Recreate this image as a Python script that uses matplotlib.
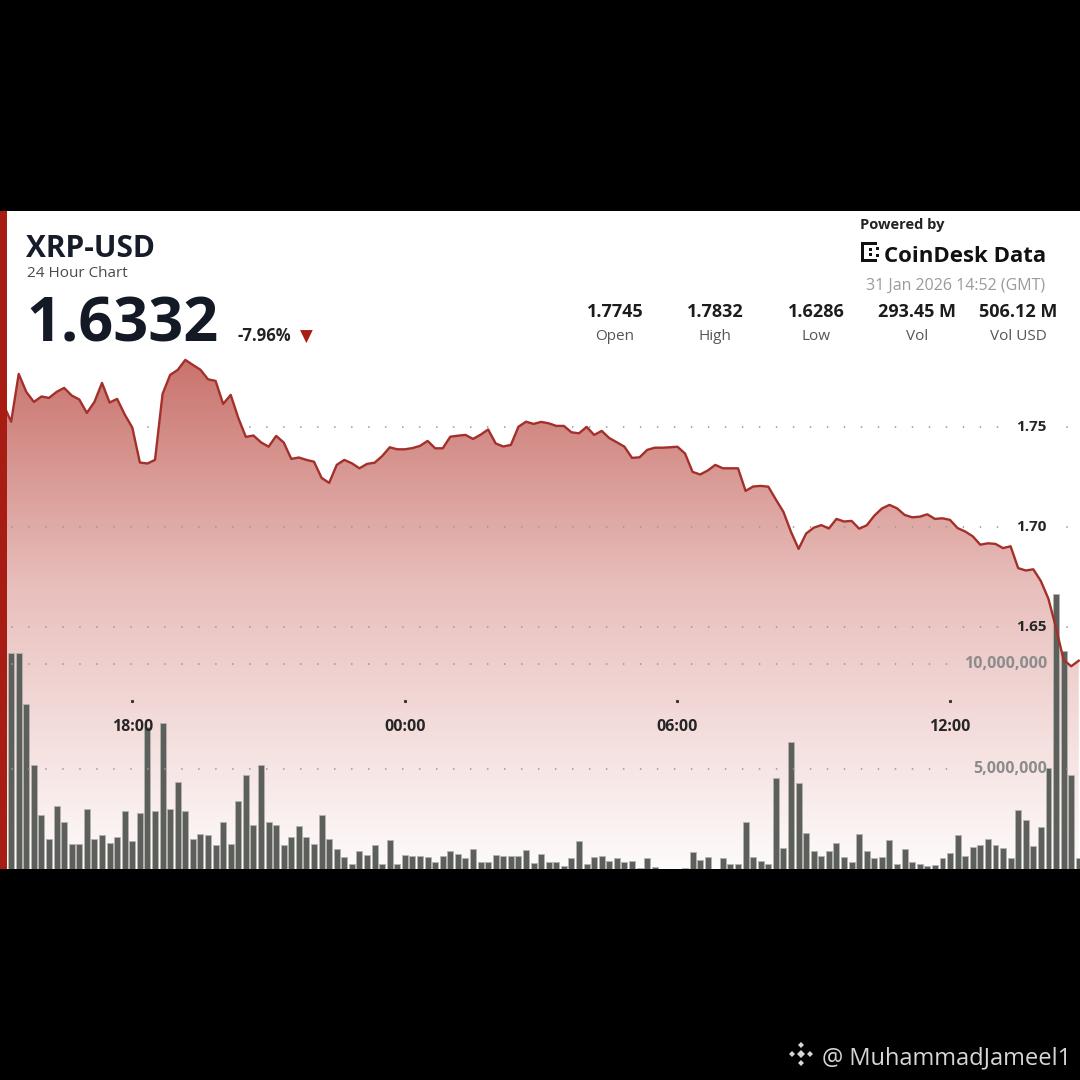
import numpy as np
import matplotlib.pyplot as plt
from matplotlib.colors import LinearSegmentedColormap
from matplotlib.patches import Rectangle, Polygon

# XRP-USD, 24 hour chart, 10 minute steps starting 15:00 the day before
start_hour = 15.0
step_hours = 1 / 6

prices = [
    1.7609, 1.7609, 1.7525, 1.7764, 1.7674, 1.7624, 1.7651, 1.7644, 1.7674, 1.7694,
    1.7656, 1.7636, 1.7569, 1.7624, 1.7719, 1.7621, 1.7639, 1.7561, 1.7496, 1.7321,
    1.7316, 1.7334, 1.7664, 1.7759, 1.7784, 1.7834, 1.7809, 1.7785, 1.7737, 1.7729,
    1.7614, 1.7659, 1.7544, 1.7449, 1.7456, 1.7422, 1.7400, 1.7454, 1.7421, 1.7339,
    1.7346, 1.7334, 1.7325, 1.7244, 1.7219, 1.7309, 1.7334, 1.7317, 1.7292, 1.7314,
    1.7320, 1.7353, 1.7397, 1.7387, 1.7387, 1.7393, 1.7404, 1.7429, 1.7392, 1.7392,
    1.7450, 1.7455, 1.7459, 1.7439, 1.7460, 1.7486, 1.7416, 1.7401, 1.7409, 1.7500,
    1.7525, 1.7514, 1.7524, 1.7517, 1.7504, 1.7504, 1.7472, 1.7467, 1.7499, 1.7459,
    1.7479, 1.7443, 1.7422, 1.7400, 1.7344, 1.7347, 1.7384, 1.7395, 1.7395, 1.7397,
    1.7400, 1.7366, 1.7274, 1.7261, 1.7281, 1.7309, 1.7292, 1.7292, 1.7292, 1.7179,
    1.7201, 1.7204, 1.7200, 1.7136, 1.7074, 1.6974, 1.6889, 1.6966, 1.6995, 1.7008,
    1.6991, 1.7039, 1.7026, 1.7029, 1.6990, 1.7007, 1.7055, 1.7091, 1.7109, 1.7092,
    1.7059, 1.7047, 1.7050, 1.7062, 1.7039, 1.7042, 1.7034, 1.6993, 1.6976, 1.6952,
    1.6910, 1.6917, 1.6914, 1.6893, 1.6902, 1.6793, 1.6781, 1.6787, 1.6728, 1.6639,
    1.6494, 1.6334, 1.6302, 1.6330,
]

# volume in millions of XRP (bars start at 15:20)
volumes_m = [
    10.5, 10.5, 8.1, 5.2, 2.8, 1.7, 3.25, 2.5, 1.43, 1.45,
    3.1, 1.7, 1.85, 1.5, 1.75, 3.0, 1.6, 2.9, 7.0, 3.0,
    7.2, 3.1, 4.4, 3.0, 1.7, 1.93, 1.85, 1.4, 2.5, 1.45,
    3.5, 4.7, 2.36, 5.2, 2.5, 2.36, 1.4, 1.75, 2.3, 1.75,
    1.45, 2.8, 1.7, 1.2, 0.8, 0.5, 1.1, 0.9, 1.37, 0.47,
    1.65, 0.5, 0.9, 0.85, 0.85, 0.8, 0.6, 0.85, 1.1, 0.95,
    0.75, 1.2, 0.6, 0.6, 0.9, 0.85, 0.87, 0.87, 1.13, 0.55,
    0.95, 0.6, 0.6, 0.4, 0.75, 1.6, 0.5, 0.8, 0.85, 0.65,
    0.75, 0.6, 0.65, 0.3, 0.75, 0.35, 0.2, 0.05, 0.15, 0.3,
    1.05, 0.7, 0.8, 0.2, 0.75, 0.5, 0.47, 2.5, 0.83, 0.63,
    0.5, 4.56, 1.23, 6.3, 4.34, 1.98, 1.12, 0.88, 1.1, 1.5,
    0.83, 0.6, 1.9, 1.12, 0.75, 0.8, 1.62, 0.47, 1.18, 0.6,
    0.47, 0.4, 0.43, 0.78, 1.0, 1.86, 0.88, 1.3, 1.41, 1.67,
    1.41, 1.26, 0.75, 3.07, 2.6, 1.35, 2.25, 5.03, 13.35, 10.6,
    4.7, 0.75,
]

tick_hours = [18, 24, 30, 36]
tick_labels = ['18:00', '00:00', '06:00', '12:00']
price_ticks = [1.65, 1.70, 1.75]
volume_ticks = [5_000_000, 10_000_000]

last_price = '1.6332'
change_pct = '-7.96%'
stat_values = ['1.7745', '1.7832', '1.6286', '293.45 M', '506.12 M']
stat_names = ['Open', 'High', 'Low', 'Vol', 'Vol USD']
timestamp = '31 Jan 2026 14:52 (GMT)'

hours = start_hour + step_hours * np.arange(len(prices))
vol_hours = hours[len(prices) - len(volumes_m):]
volumes = np.array(volumes_m) * 1e6

plt.rcParams['font.family'] = ['Open Sans', 'DejaVu Sans']

W = 1080
fig = plt.figure(figsize=(10.8, 10.8), dpi=100, facecolor='black')


def fx(px):
    return px / W


def fy(py):
    return 1 - py / W


card_top, card_bot = 211, 869
ax = fig.add_axes([0, fy(card_bot), 1, (card_bot - card_top) / W])
ax.set_facecolor('white')
x_lo, x_hi = 15.088, 38.861
p_lo, p_hi = 1.52885, 1.85785
ax.axis('off')
ax.add_patch(Rectangle((0, 0), 1, 1, transform=ax.transAxes, facecolor='white', zorder=0))

# gradient area under the price line
cmap = LinearSegmentedColormap.from_list(
    'fill', [(0, '#fefbfb'), (0.55, '#e8bfbc'), (1, '#c9726c')])
grad = np.linspace(0, 1, 256).reshape(-1, 1)
im = ax.imshow(grad, extent=[x_lo, x_hi, p_lo, 1.785], origin='lower',
               aspect='auto', cmap=cmap, zorder=1)
area = ax.fill_between(hours, prices, p_lo, facecolor='none', edgecolor='none')
im.set_clip_path(area.get_paths()[0], transform=ax.transData)
ax.set_xlim(x_lo, x_hi)
ax.set_ylim(p_lo, p_hi)

dots = dict(color='#999999', lw=1.3, linestyle=(0, (0.01, 9.4)),
            dash_capstyle='round', zorder=2)
for p in price_ticks:
    ax.axhline(p, xmin=0.011, xmax=0.925, **dots)
    ax.axhline(p, xmin=0.988, xmax=0.995, **dots)
    ax.text(0.9694, p, f'{p:.2f}', transform=ax.get_yaxis_transform(),
            ha='right', va='center', fontsize=11, fontweight='bold',
            color='#262626', zorder=5)

# volume bars on a second scale
axv = ax.twinx()
axv.set_ylim(0.25e6, 31.54e6)
axv.axis('off')
axv.bar(vol_hours, volumes, width=0.13, color='#5d5f5b',
        edgecolor='#b4b4b2', linewidth=0.6, zorder=2)
for v in volume_ticks:
    axv.axhline(v, xmin=0.011, xmax=0.885, **dots)
    axv.axhline(v, xmin=0.988, xmax=0.995, **dots)
    axv.text(0.9694, v, f'{v:,}', transform=axv.get_yaxis_transform(),
             ha='right', va='center', fontsize=11.5, fontweight='bold',
             color='#8c8c8c', zorder=5)

axv.plot(hours, prices, color='#a3302a', lw=1.7, transform=ax.transData,
         zorder=4, solid_joinstyle='round')

for h, lab in zip(tick_hours, tick_labels):
    axv.plot([h], [(card_bot - 701) / (card_bot - card_top)], marker='s', ms=1.2,
             color='#333333', transform=axv.get_xaxis_transform(), zorder=5)
    axv.text(h, (card_bot - 727) / (card_bot - card_top), lab,
             transform=axv.get_xaxis_transform(), ha='center', va='center',
             fontsize=11.5, fontweight='bold', color='#262626', zorder=5)

# left red strip
fig.patches.append(Rectangle((0, fy(card_bot)), fx(7), (card_bot - card_top) / W,
                             transform=fig.transFigure, facecolor='#a71c13', zorder=10))

# header, left
fig.text(fx(26), fy(257), 'XRP-USD', fontsize=21.5, fontweight='bold', color='#161c28', va='baseline')
fig.text(fx(27), fy(277), '24 Hour Chart', fontsize=11, color='#4a4a4a', va='baseline')
fig.text(fx(26), fy(341), last_price, fontsize=44, fontweight='bold', color='#131a26', va='baseline')
fig.text(fx(237), fy(341), change_pct, fontsize=12, fontweight='bold', color='#222222', va='baseline')
fig.text(fx(300), fy(342), '\u25bc', fontsize=12, color='#a71c13', va='baseline',
         family='DejaVu Sans')

# header, right
fig.text(fx(860), fy(229), 'Powered by', fontsize=10.5, fontweight='bold', color='#222222', va='baseline')
fig.text(fx(884), fy(262), 'CoinDesk Data', fontsize=16, fontweight='bold', color='#111111', va='baseline')
for (x0, y0, w, h) in [(861, 242, 3, 20), (861, 242, 16, 3), (861, 259, 16, 3),
                       (869, 248, 3, 3), (869, 253, 3, 3), (876, 247, 3, 3), (876, 254, 3, 3)]:
    fig.patches.append(Rectangle((fx(x0), fy(y0 + h)), w / W, h / W,
                                 transform=fig.transFigure, facecolor='#111111', zorder=10))
fig.text(fx(866), fy(290), timestamp, fontsize=11.5, color='#9a9a9a', va='baseline')

stat_x = [615, 715, 816, 917, 1018]
for x, val, name in zip(stat_x, stat_values, stat_names):
    fig.text(fx(x), fy(317), val, fontsize=13, fontweight='bold', color='#1c1c1c',
             ha='center', va='baseline')
    fig.text(fx(x), fy(340), name, fontsize=11, color='#555555', ha='center', va='baseline')

# watermark
fig.text(fx(822), fy(1064), '@ MuhammadJameel1', fontsize=17, color='#d6d6d6', va='baseline')
cx, cy = 801, 1054
for dx, dy, r in [(0, 0, 4), (0, -9, 3), (0, 9, 3), (-9, 0, 3), (9, 0, 3)]:
    pts = [(fx(cx + dx), fy(cy + dy - r)), (fx(cx + dx + r), fy(cy + dy)),
           (fx(cx + dx), fy(cy + dy + r)), (fx(cx + dx - r), fy(cy + dy))]
    fig.patches.append(Polygon(pts, closed=True, transform=fig.transFigure,
                               facecolor='#d6d6d6', zorder=10))

fig.savefig('out.png', dpi=100, facecolor='black')
